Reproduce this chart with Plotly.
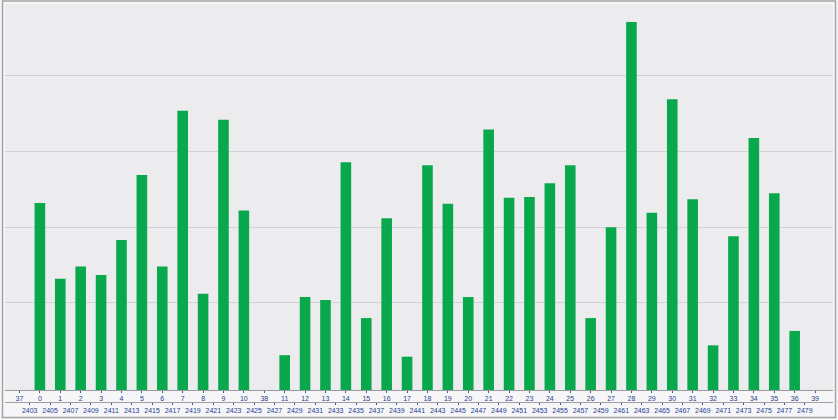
import plotly.graph_objects as go

# ---- data ----
categories = ["37", "0", "1", "2", "3", "4", "5", "6", "7", "8", "9", "10", "38",
              "11", "12", "13", "14", "15", "16", "17", "18", "19", "20", "21", "22",
              "23", "24", "25", "26", "27", "28", "29", "30", "31", "32", "33", "34",
              "35", "36", "39"]
values = [None, 24.7, 14.7, 16.3, 15.2, 19.8, 28.4, 16.3, 36.9, 12.7, 35.7, 23.7, None,
          4.6, 12.3, 11.9, 30.1, 9.5, 22.7, 4.4, 29.7, 24.6, 12.3, 34.4, 25.4,
          25.5, 27.3, 29.7, 9.5, 21.5, 48.6, 23.4, 38.4, 25.2, 5.9, 20.3, 33.3,
          26.0, 7.8, None]
secondary_labels = [str(2403 + 2 * i) for i in range(39)]
grid_values = [11.5, 21.5, 31.5, 41.5]

# ---- layout geometry (pixels) ----
W, H = 838, 420
ml, mr, mt, mb = 5, 5, 4, 5
pw, ph = W - ml - mr, H - mt - mb
def fx(px):
    return (px - ml) / pw
def fy(py):
    return (H - mb - py) / ph

idx = list(range(len(categories)))
sec_pos = [i + 0.5 for i in range(len(secondary_labels))]
xrange = [-0.71, 39.88]
label_font = dict(family="Liberation Sans, Arial, sans-serif", size=7, color="#1f3f8f")

fig = go.Figure()
fig.add_trace(go.Bar(x=idx, y=values, marker=dict(color="#0aa84c", line=dict(width=0)),
                     width=0.52, hoverinfo="skip", showlegend=False))
fig.add_trace(go.Scatter(x=sec_pos, y=[0] * len(sec_pos), xaxis="x2", mode="markers",
                         marker=dict(size=0.1, opacity=0), hoverinfo="skip", showlegend=False))

fig.update_layout(
    width=W, height=H,
    margin=dict(l=ml, r=mr, t=mt, b=mb, pad=0, autoexpand=False),
    paper_bgcolor="#f6f6f8",
    plot_bgcolor="#ececee",
    bargap=0.48,
    xaxis=dict(range=xrange, tickmode="array", tickvals=idx, ticktext=categories,
               showgrid=False, zeroline=False, showline=True, linecolor="#9a9a9a", linewidth=1,
               ticks="outside", ticklen=2, tickcolor="#3a5a9a", tickwidth=1,
               tickfont=label_font, anchor="y", fixedrange=True, automargin=False),
    xaxis2=dict(range=xrange, overlaying="x", anchor="free", position=fy(402), side="bottom",
                tickmode="array", tickvals=sec_pos, ticktext=secondary_labels,
                showgrid=False, zeroline=False, showline=True, linecolor="#a0a0a0", linewidth=1,
                ticks="outside", ticklen=2, tickcolor="#3a5a9a", tickwidth=1,
                tickfont=label_font, fixedrange=True, automargin=False),
    yaxis=dict(domain=[fy(390), 1], range=[0, (390 - mt) / 7.57], tickmode="array",
               tickvals=grid_values, showticklabels=False, showgrid=True,
               gridcolor="#d2d2d6", gridwidth=1, zeroline=False, showline=False,
               fixedrange=True, automargin=False),
    shapes=[
        dict(type="rect", xref="paper", yref="paper", x0=fx(2.5), x1=fx(835.5),
             y0=fy(417.5), y1=fy(1), line=dict(color="#a4a4a4", width=1.5),
             fillcolor="rgba(0,0,0,0)", layer="above"),
    ],
)

fig.write_html("out.html", config={"displayModeBar": False, "staticPlot": True},
               post_script="document.body.style.margin='0';document.body.style.overflow='hidden';")
